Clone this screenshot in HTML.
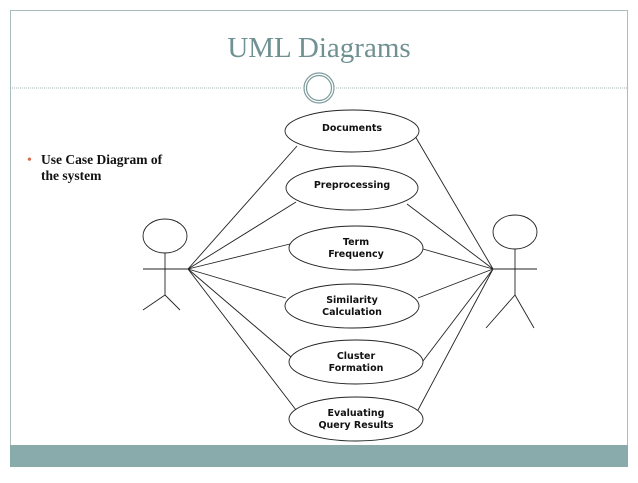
<!DOCTYPE html>
<html><head><style>
body{margin:0;background:#fff;width:638px;height:478px;overflow:hidden}
</style></head><body>
<svg width="638" height="478" xmlns="http://www.w3.org/2000/svg">
<rect x="10.5" y="10.5" width="617" height="456" fill="none" stroke="#a9bdbd" stroke-width="1"/>
<rect x="10" y="445" width="618" height="22" fill="#8aabab"/>
<text x="319" y="57" text-anchor="middle" font-family="Liberation Serif, serif" font-size="29" fill="#6f9192">UML Diagrams</text>
<line x1="10" y1="88" x2="302" y2="88" stroke="#9db3b3" stroke-dasharray="1,1"/>
<line x1="336" y1="88" x2="628" y2="88" stroke="#9db3b3" stroke-dasharray="1,1"/>
<circle cx="319" cy="88" r="15" fill="none" stroke="#7e9c9c" stroke-width="1.2"/>
<circle cx="319" cy="88" r="12.5" fill="none" stroke="#7e9c9c" stroke-width="1.2"/>
<text x="27" y="164" font-family="Liberation Serif, serif" font-size="14" fill="#d9694a">•</text>
<text x="41" y="164" font-family="Liberation Serif, serif" font-size="13.5" font-weight="bold" fill="#111">Use Case Diagram of</text>
<text x="41" y="180" font-family="Liberation Serif, serif" font-size="13.5" font-weight="bold" fill="#111">the system</text>
<g stroke="#222" stroke-width="0.9" fill="none">
<line x1="188" y1="269" x2="297" y2="146"/>
<line x1="188" y1="269" x2="296" y2="202"/>
<line x1="188" y1="269" x2="290" y2="244"/>
<line x1="188" y1="269" x2="286" y2="298"/>
<line x1="188" y1="269" x2="291" y2="357"/>
<line x1="188" y1="269" x2="296" y2="410"/>
<line x1="493" y1="269" x2="415" y2="136"/>
<line x1="493" y1="269" x2="407" y2="204"/>
<line x1="493" y1="269" x2="423" y2="249"/>
<line x1="493" y1="269" x2="418" y2="298"/>
<line x1="493" y1="269" x2="423" y2="361"/>
<line x1="493" y1="269" x2="418" y2="410"/>
<ellipse cx="165" cy="236" rx="22" ry="17"/>
<line x1="165" y1="253" x2="165" y2="295"/>
<line x1="143" y1="269" x2="188" y2="269"/>
<line x1="165" y1="295" x2="143" y2="310"/>
<line x1="165" y1="295" x2="180" y2="310"/>
<ellipse cx="515" cy="232" rx="22" ry="17"/>
<line x1="515" y1="249" x2="515" y2="295"/>
<line x1="493" y1="269" x2="537" y2="269"/>
<line x1="515" y1="295" x2="486" y2="328"/>
<line x1="515" y1="295" x2="534" y2="328"/>
</g>
<g stroke="#222" stroke-width="0.9" fill="#fff">
<ellipse cx="352" cy="131" rx="67" ry="21"/>
<ellipse cx="352" cy="188" rx="66" ry="22"/>
<ellipse cx="356" cy="248" rx="67" ry="22"/>
<ellipse cx="352" cy="306" rx="67" ry="22"/>
<ellipse cx="356" cy="362" rx="67" ry="22"/>
<ellipse cx="356" cy="419" rx="67" ry="22"/>
</g>
<g font-family="DejaVu Sans, sans-serif" font-size="9.5" font-weight="bold" fill="#111" text-anchor="middle">
<text x="352" y="131">Documents</text>
<text x="352" y="188">Preprocessing</text>
<text x="356" y="245">Term</text>
<text x="356" y="257">Frequency</text>
<text x="352" y="303">Similarity</text>
<text x="352" y="315">Calculation</text>
<text x="356" y="359">Cluster</text>
<text x="356" y="371">Formation</text>
<text x="356" y="416">Evaluating</text>
<text x="356" y="428">Query Results</text>
</g>
</svg>
</body></html>
